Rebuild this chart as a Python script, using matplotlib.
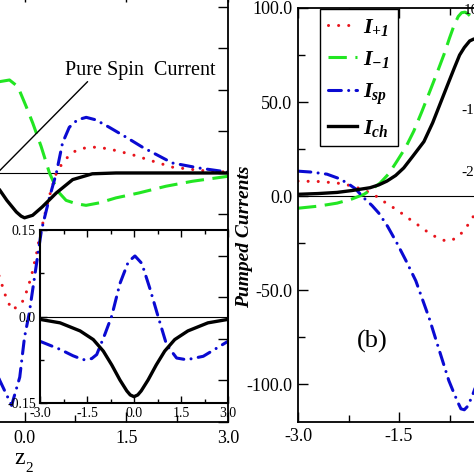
import matplotlib
matplotlib.use("Agg")
import matplotlib.pyplot as plt
from matplotlib.ticker import MultipleLocator, FuncFormatter

plt.rcParams["font.family"] = "Liberation Serif"
plt.rcParams["mathtext.fontset"] = "custom"
plt.rcParams["mathtext.rm"] = "Liberation Serif:bold:italic"
plt.rcParams["mathtext.it"] = "Liberation Serif:bold:italic"
plt.rcParams["mathtext.bf"] = "Liberation Serif:bold:italic"

RED = "#e8141c"
GREEN = "#22e622"
BLUE = "#0a0ad2"

# ---- panel (a), main curves vs z2 ----
a_red_x = [-0.6, -0.37, -0.26, -0.18, -0.04, 0.03, 0.10, 0.18, 0.22, 0.30, 0.37, 0.47,
           0.56, 0.69, 0.82, 0.96, 1.10, 1.35, 1.59, 1.9, 2.18, 2.6, 3.0]
a_red_y = [-0.08, -0.125, -0.153, -0.165, -0.157, -0.143, -0.125, -0.096, -0.078, -0.050,
           -0.027, 0.0, 0.012, 0.024, 0.029, 0.031, 0.031, 0.027, 0.022, 0.014, 0.007, 0.003, 0.001]
a_green_x = [-0.6, -0.368, -0.221, -0.098, 0.025, 0.122, 0.245, 0.368, 0.490, 0.613, 0.760,
             0.907, 1.103, 1.349, 1.691, 2.084, 2.475, 3.0]
a_green_y = [0.10, 0.110, 0.112, 0.104, 0.080, 0.060, 0.032, 0.0, -0.022, -0.033, -0.037,
             -0.039, -0.036, -0.030, -0.024, -0.016, -0.010, -0.004]
a_blue_x = [-0.6, -0.37, -0.19, -0.07, 0.0, 0.07, 0.12, 0.25, 0.37, 0.47, 0.56, 0.66, 0.78,
            0.91, 1.05, 1.25, 1.5, 1.74, 2.18, 2.57, 3.0]
a_blue_y = [-0.20, -0.249, -0.280, -0.246, -0.198, -0.169, -0.141, -0.069, -0.029, 0.0, 0.036,
            0.055, 0.064, 0.067, 0.064, 0.055, 0.043, 0.031, 0.012, 0.006, 0.001]
a_black_x = [-0.8, -0.6, -0.37, -0.26, -0.12, -0.05, 0.0, 0.12, 0.26, 0.47, 0.71, 1.0, 1.35,
             2.0, 3.0]
a_black_y = [-0.003, -0.008, -0.020, -0.033, -0.047, -0.052, -0.054, -0.051, -0.041, -0.024,
             -0.008, -0.001, 0.0, 0.0, 0.0]

# ---- inset of panel (a) ----
in_blue_x = [-3, -2.36, -1.95, -1.62, -1.35, -1.19, -0.93, -0.71, -0.45, -0.18, 0.03, 0.25,
             0.51, 0.78, 1.04, 1.36, 1.68, 2.21, 3]
in_blue_y = [-0.043, -0.057, -0.068, -0.075, -0.073, -0.066, -0.031, 0.001, 0.057, 0.095,
             0.105, 0.092, 0.048, -0.002, -0.049, -0.072, -0.075, -0.069, -0.043]
in_black_x = [-3, -2.36, -1.72, -1.30, -0.98, -0.71, -0.45, -0.23, -0.12, 0, 0.12, 0.23, 0.45,
              0.71, 0.98, 1.30, 1.72, 2.36, 3]
in_black_y = [-0.005, -0.011, -0.025, -0.040, -0.060, -0.084, -0.110, -0.129, -0.136, -0.139,
              -0.136, -0.129, -0.110, -0.084, -0.060, -0.040, -0.025, -0.011, -0.005]

# ---- panel (b) ----
b_red_x = [-3, -2.7, -2.42, -2.2, -2.0, -1.84, -1.69, -1.57, -1.44, -1.32, -1.19, -1.05,
           -0.92, -0.79, -0.64, -0.52, -0.42, -0.3]
b_red_y = [8, 7.8, 7, 5.5, 3, 0, -3.7, -6.4, -9.6, -12.8, -16, -19.7, -22.3, -24, -22.3,
           -17.6, -12.2, -5]
b_green_x = [-3, -2.7, -2.42, -2.2, -2.02, -1.9, -1.78, -1.65, -1.53, -1.4, -1.28, -1.16,
             -1.04, -0.93, -0.83, -0.75, -0.68, -0.62, -0.57, -0.52, -0.48, -0.39, -0.3]
b_green_y = [-6.4, -5.3, -3.7, -1.5, 1, 3.8, 7, 12, 18.6, 26, 34.6, 45, 55.9, 66, 75.5, 84,
             91, 95.5, 97.5, 97.8, 97, 94, 88]
b_blue_x = [-3, -2.8, -2.57, -2.4, -2.27, -2.15, -2.02, -1.9, -1.8, -1.67, -1.53, -1.4, -1.25,
            -1.05, -0.91, -0.76, -0.68, -0.62, -0.58, -0.53, -0.49, -0.42, -0.3]
b_blue_y = [13.3, 12.8, 11.7, 9.5, 7, 4, -1, -5, -9, -16, -25, -34, -45, -65, -81, -98, -105,
            -110, -113, -113.5, -112, -107, -95]
b_black_x = [-3, -2.7, -2.42, -2.2, -1.93, -1.8, -1.68, -1.55, -1.43, -1.3, -1.13, -1.0,
             -0.89, -0.78, -0.68, -0.6, -0.53, -0.45, -0.39, -0.3]
b_black_y = [1, 1.4, 2, 3, 4.5, 6, 8, 11, 15, 21, 29, 39, 49, 59, 68, 75, 79, 82.5, 83.5, 83.5]

labels = [r"$I_{+1}$", r"$I_{-1}$", r"$I_{sp}$", r"$I_{ch}$"]

sty_red = dict(color=RED, lw=2.2, ls=(0, (0.01, 3.3)), dash_capstyle="round")
sty_green = dict(color=GREEN, lw=2.2, ls=(0, (6, 2.8)))
sty_blue = dict(color=BLUE, lw=2.2, ls=(0, (4.2, 2.4, 0.01, 2.4)), dash_capstyle="round")
sty_black = dict(color="black", lw=2.4, ls="-", solid_joinstyle="round")

W = H = 474.0


def box(x0, y0, x1, y1):
    # pixel box (top-left origin) -> figure rect
    return [x0 / W, 1 - y1 / H, (x1 - x0) / W, (y1 - y0) / H]


fmt1 = FuncFormatter(lambda v, p: f"{v:.1f}")
fmt2 = FuncFormatter(lambda v, p: f"{v:.2f}" if abs(v) > 0.01 else "0.0")

fig = plt.figure(figsize=(4.74, 4.74), dpi=100)

# panel (a)
ax_a = fig.add_axes(box(-179, -8, 228, 422))
ax_a.plot(a_red_x, a_red_y, **sty_red)
ax_a.plot(a_green_x, a_green_y, **sty_green)
ax_a.plot(a_blue_x, a_blue_y, **sty_blue)
ax_a.plot(a_black_x, a_black_y, **sty_black)
ax_a.axhline(0, color="black", lw=0.8, zorder=1)
ax_a.set_xlim(-3, 3)
ax_a.set_ylim(-0.3, 0.218)
ax_a.xaxis.set_major_locator(MultipleLocator(1.5))
ax_a.xaxis.set_minor_locator(MultipleLocator(0.75))
ax_a.xaxis.set_major_formatter(fmt1)
ax_a.yaxis.set_major_locator(MultipleLocator(0.05))
ax_a.set_yticklabels([])
ax_a.tick_params(which="both", direction="in", top=True, right=True, width=1.0)
ax_a.tick_params(which="major", length=7, labelsize=13, pad=6)
ax_a.tick_params(which="minor", length=5)
for s in ax_a.spines.values():
    s.set_linewidth(1.3)
ax_a.annotate("", xy=(-0.4, 0.0), xytext=(0.93, 0.110),
              arrowprops=dict(arrowstyle="-", color="black", lw=1.0, shrinkA=0, shrinkB=0))
ax_a.text(0.59, 0.124, "Pure Spin  Current", fontsize=14.5, va="center", ha="left")

# inset of (a)
ax_in = fig.add_axes(box(40, 230, 228, 403))
ax_in.set_facecolor("none")
ax_in.plot(in_blue_x, in_blue_y, **sty_blue)
ax_in.plot(in_black_x, in_black_y, **sty_black)
ax_in.axhline(0, color="black", lw=0.8, zorder=1)
ax_in.set_xlim(-3, 3)
ax_in.set_ylim(-0.15, 0.15)
ax_in.xaxis.set_major_locator(MultipleLocator(1.5))
ax_in.xaxis.set_minor_locator(MultipleLocator(0.75))
ax_in.xaxis.set_major_formatter(fmt1)
ax_in.yaxis.set_major_locator(MultipleLocator(0.15))
ax_in.yaxis.set_minor_locator(MultipleLocator(0.075))
ax_in.yaxis.set_major_formatter(fmt2)
ax_in.tick_params(which="both", direction="in", top=True, right=False, width=1.0)
ax_in.tick_params(which="major", length=5, labelsize=10, pad=3)
ax_in.tick_params(which="minor", length=3)
for s in ax_in.spines.values():
    s.set_linewidth(1.5)

fig.text(20 / W, 1 - 458 / H, "z", fontsize=17, ha="center", va="center")
fig.text(29 / W, 1 - 468 / H, "2", fontsize=11, ha="center", va="center")

# panel (b)
ax_b = fig.add_axes(box(298, 8, 702, 422))
lines = []
lines += ax_b.plot(b_red_x, b_red_y, **sty_red)
lines += ax_b.plot(b_green_x, b_green_y, **sty_green)
lines += ax_b.plot(b_blue_x, b_blue_y, **sty_blue)
lines += ax_b.plot(b_black_x, b_black_y, **sty_black)
ax_b.axhline(0, color="black", lw=0.8, zorder=1)
ax_b.set_xlim(-3, 3)
ax_b.set_ylim(-120, 100)
ax_b.xaxis.set_major_locator(MultipleLocator(1.5))
ax_b.xaxis.set_minor_locator(MultipleLocator(0.75))
ax_b.xaxis.set_major_formatter(fmt1)
ax_b.yaxis.set_major_locator(MultipleLocator(50))
ax_b.yaxis.set_minor_locator(MultipleLocator(25))
ax_b.yaxis.set_major_formatter(fmt1)
ax_b.tick_params(which="both", direction="in", top=True, right=True, width=1.0)
ax_b.tick_params(which="major", length=7, labelsize=13, pad=4)
ax_b.tick_params(which="minor", length=5)
for s in ax_b.spines.values():
    s.set_linewidth(1.3)
ax_b.text(-1.90, -77, "(b)", fontsize=19, ha="center", va="center")

leg = ax_b.legend(lines, labels, loc="upper left",
                  bbox_to_anchor=((320 - 298) / 404, (422 - 9) / 414),
                  borderaxespad=0, fontsize=16, frameon=True, fancybox=False,
                  framealpha=1, edgecolor="black", borderpad=0.35, handlelength=1.3,
                  handletextpad=0.3, labelspacing=0.5)
leg.get_frame().set_linewidth(1.0)

fig.text(245 / W, 1 - 237 / H, "Pumped Currents", rotation=90, fontsize=14,
         fontweight="bold", fontstyle="italic", ha="center", va="center")

# tick labels of the (b) inset, cut by the right border
fig.text(464 / W, 1 - 10 / H, "100.0", fontsize=11, ha="left", va="center")
fig.text(461 / W, 1 - 110 / H, "-100.0", fontsize=11, ha="left", va="center")
fig.text(461 / W, 1 - 173 / H, "-200.0", fontsize=11, ha="left", va="center")

fig.savefig("out.png", dpi=100)
